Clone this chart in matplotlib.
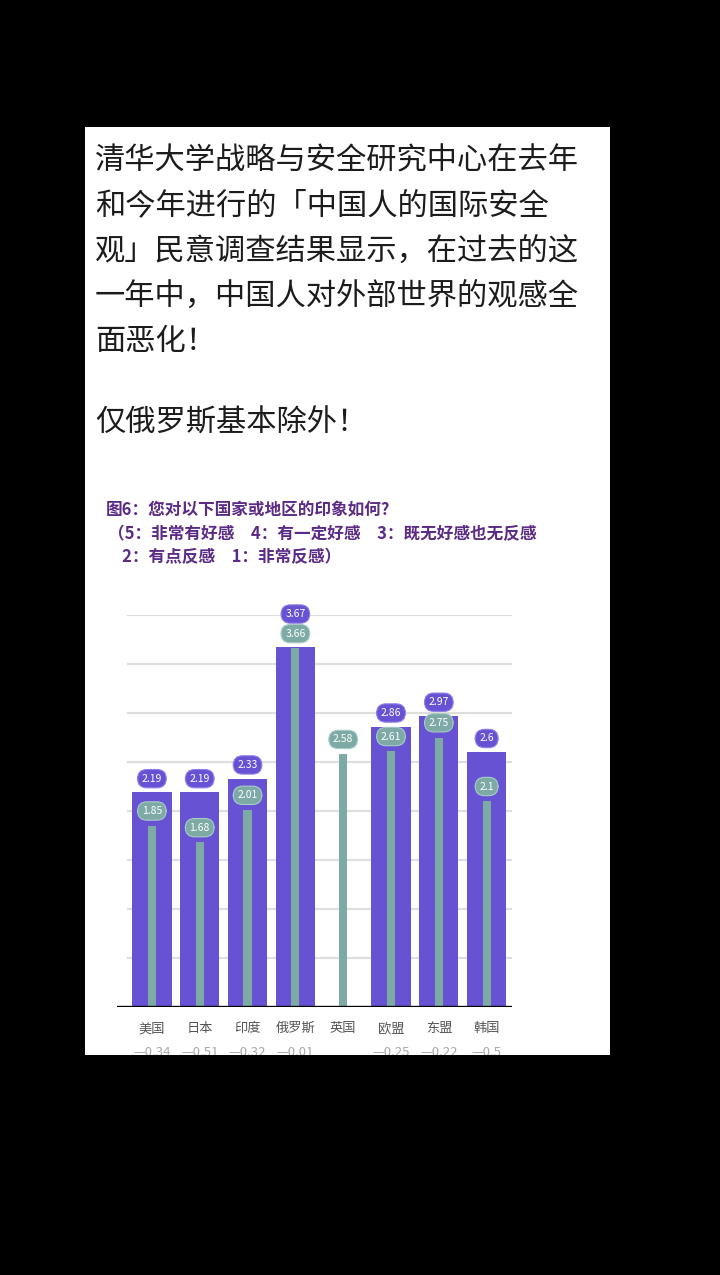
import numpy as np
import matplotlib.pyplot as plt
from matplotlib.transforms import blended_transform_factory

plt.rcParams['font.family'] = ['Noto Sans CJK SC', 'DejaVu Sans']

# text of the post
post_lines = ['清华大学战略与安全研究中心在去年',
              '和今年进行的「中国人的国际安全',
              '观」民意调查结果显示，在过去的这',
              '一年中，中国人对外部世界的观感全',
              '面恶化！']
post_tail = '仅俄罗斯基本除外！'

chart_title = ['图6：您对以下国家或地区的印象如何?',
               '（5：非常有好感　4：有一定好感　3：既无好感也无反感',
               '2：有点反感　1：非常反感）']

# chart data
regions = ['美国', '日本', '印度', '俄罗斯', '英国', '欧盟', '东盟', '韩国']
score_last = [2.19, 2.19, 2.33, 3.67, np.nan, 2.86, 2.97, 2.6]
score_this = [1.85, 1.68, 2.01, 3.66, 2.58, 2.61, 2.75, 2.1]

W, H = 720, 1275
PURPLE = '#6752d4'
TEAL = '#7eaaa6'


def fx(px):
    return px / W


def fy(py):
    return 1 - py / H


fig = plt.figure(figsize=(7.2, 12.75), dpi=100, facecolor='black')

# white card
panel = fig.add_axes([fx(85), fy(1055), fx(610) - fx(85), fy(127) - fy(1055)])
panel.set_facecolor('white')
panel.set_xticks([])
panel.set_yticks([])
for s in panel.spines.values():
    s.set_visible(False)

# post text
for i, line in enumerate(post_lines):
    fig.text(fx(95), fy(161 + 45 * i), line, va='center', ha='left',
             fontsize=21.8, color='#1c1c1c')
fig.text(fx(95), fy(423), post_tail, va='center', ha='left',
         fontsize=21.8, color='#1c1c1c')

# chart title
title_pos = [(106, 510), (108, 534), (122, 557)]
for (px, py), line in zip(title_pos, chart_title):
    fig.text(fx(px), fy(py), line, va='center', ha='left', fontsize=12,
             fontweight='bold', color='#5b2b86')

# chart
ax = fig.add_axes([fx(117), fy(1007), fx(512) - fx(117), fy(615) - fy(1007)])
ax.set_facecolor('none')
for s in ax.spines.values():
    s.set_visible(False)
x = np.arange(len(regions))
ax.set_xlim(-0.73, 7.53)
ax.set_ylim(0, 4)

for yv in np.arange(0.5, 4.01, 0.5):
    ax.axhline(yv, xmin=0.028, color='#dedede', lw=1.6, zorder=0)
ax.axhline(0, color='black', lw=2.4, zorder=4)

ax.bar(x, score_last, width=0.82, color=PURPLE, zorder=2)
ax.bar(x, score_this, width=0.17, color=TEAL, zorder=3)

ax.set_yticks([])
ax.set_xticks(x, regions)
ax.tick_params(axis='x', length=0, pad=11, labelsize=9.5, labelcolor='#555555')

# value pills
for xi, p, t in zip(x, score_last, score_this):
    ty = t + 0.15
    ax.text(xi, ty, f'{t:g}', ha='center', va='center', fontsize=7.5,
            color='white', zorder=6,
            bbox=dict(boxstyle='round,pad=0.4,rounding_size=0.9',
                      fc=TEAL, ec='#a9cbc7', lw=0.8))
    if not np.isnan(p):
        py = max(p + 0.14, ty + 0.2)
        ax.text(xi, py, f'{p:g}', ha='center', va='center', fontsize=7.5,
                color='white', zorder=6,
                bbox=dict(boxstyle='round,pad=0.4,rounding_size=0.9',
                          fc=PURPLE, ec='#8f80e6', lw=0.8))

# year-on-year change, cut off by the card edge
tr = blended_transform_factory(ax.transData, fig.transFigure)
for xi, p, t in zip(x, score_last, score_this):
    if np.isnan(p):
        continue
    d = round(t - p, 2)
    txt = fig.text(xi, fy(1053), '—' + f'{abs(d):g}', transform=tr,
                   ha='center', va='center', fontsize=9.5, color='#a8a8a8',
                   clip_on=True)
    txt.set_clip_box(panel.bbox)

fig.savefig('out.png', dpi=100, facecolor='black')
